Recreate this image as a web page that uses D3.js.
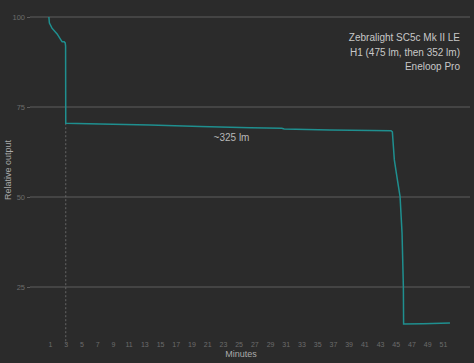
<!DOCTYPE html>
<html>
<head>
<meta charset="utf-8">
<script src="https://cdn.jsdelivr.net/npm/d3@7"></script>
<style>
  body { margin: 0; background: #2b2b2b; }
  svg { display: block; font-family: "Liberation Sans", Arial, sans-serif; }
</style>
</head>
<body>
<div id="chart"></div>
<script>
// runtime readings
var minutes = [0.85, 0.92, 1.25, 1.9, 2.4, 2.55, 2.8, 2.93, 2.98, 3.0, 7.4, 13.7, 20.1, 26.5, 30.5, 30.8, 36.6, 42, 44.4, 44.57, 44.82, 45.17, 45.55, 45.8, 45.97, 46.0, 48.5, 51.9];
var output = [100, 98.3, 96.9, 95.3, 93.6, 93.1, 93.1, 92.8, 91.9, 70.5, 70.3, 70.0, 69.6, 69.25, 69.1, 68.9, 68.6, 68.5, 68.4, 68.1, 60.3, 55.3, 50.1, 40.0, 25.1, 14.7, 14.8, 15.0];

var xTicks = [1, 3, 5, 7, 9, 11, 13, 15, 17, 19, 21, 23, 25, 27, 29, 31, 33, 35, 37, 39, 41, 43, 45, 47, 49, 51];
var yTicks = [25, 50, 75, 100];
var titleLines = ["Zebralight SC5c Mk II LE", "H1 (475 lm, then 352 lm)", "Eneloop Pro"];
var switchMinute = 3;

var width = 474, height = 363;

var x = d3.scaleLinear().domain([-1.55, 54.45]).range([30, 470]);
var y = d3.scaleLinear().domain([25, 100]).range([287, 17]);
var bottom = 344;

var svg = d3.select("#chart").append("svg")
  .attr("width", width)
  .attr("height", height);

svg.append("rect")
  .attr("width", width)
  .attr("height", height)
  .attr("fill", "#2b2b2b");

// horizontal grid
svg.append("g")
  .selectAll("line")
  .data(yTicks)
  .enter().append("line")
  .attr("x1", x.range()[0])
  .attr("x2", x.range()[1])
  .attr("y1", function(d) { return y(d); })
  .attr("y2", function(d) { return y(d); })
  .attr("stroke", "#5e5e5e")
  .attr("stroke-width", 1);

// y axis ticks + labels
var yAxis = svg.append("g")
  .attr("transform", "translate(30,0)")
  .call(d3.axisLeft(y).tickValues(yTicks).tickSize(3).tickPadding(2));
yAxis.select(".domain").remove();
yAxis.selectAll("line").attr("stroke", "#5e5e5e");
yAxis.selectAll("text")
  .attr("fill", "#6c6c6c")
  .attr("font-size", 7.5)
  .attr("font-family", "Liberation Sans, Arial, sans-serif");

// x axis labels
var xAxis = svg.append("g")
  .attr("transform", "translate(0," + 339 + ")")
  .call(d3.axisBottom(x).tickValues(xTicks).tickSize(0).tickPadding(3));
xAxis.select(".domain").remove();
xAxis.selectAll("text")
  .attr("fill", "#6c6c6c")
  .attr("font-size", 7)
  .attr("font-family", "Liberation Sans, Arial, sans-serif");

// dashed marker where output switches
var switchIdx = minutes.indexOf(switchMinute);
svg.append("line")
  .attr("x1", x(switchMinute))
  .attr("x2", x(switchMinute))
  .attr("y1", y(output[switchIdx]))
  .attr("y2", bottom)
  .attr("stroke", "#666")
  .attr("stroke-width", 1)
  .attr("stroke-dasharray", "2,2");

var line = d3.line()
  .x(function(d, i) { return x(minutes[i]); })
  .y(function(d) { return y(d); })
  .curve(d3.curveMonotoneX);

svg.append("path")
  .datum(output)
  .attr("d", d3.line()
    .x(function(d, i) { return x(minutes[i]); })
    .y(function(d) { return y(d); }))
  .attr("fill", "none")
  .attr("stroke", "#1f8f8f")
  .attr("stroke-width", 1.5);

// annotation
svg.append("text")
  .attr("x", x(24.1))
  .attr("y", 141)
  .attr("text-anchor", "middle")
  .attr("fill", "#b8b8b8")
  .attr("font-size", 10)
  .text("~325 lm");

// title block
svg.append("g")
  .selectAll("text")
  .data(titleLines)
  .enter().append("text")
  .attr("x", 460)
  .attr("y", function(d, i) { return 41 + i * 14.5; })
  .attr("text-anchor", "end")
  .attr("fill", "#c8c8c8")
  .attr("font-size", 10)
  .text(function(d) { return d; });

// axis titles
svg.append("text")
  .attr("x", x(25.3))
  .attr("y", 357)
  .attr("text-anchor", "middle")
  .attr("fill", "#aaa")
  .attr("font-size", 9)
  .text("Minutes");

svg.append("text")
  .attr("transform", "translate(11,170) rotate(-90)")
  .attr("text-anchor", "middle")
  .attr("fill", "#aaa")
  .attr("font-size", 9)
  .text("Relative output");
</script>
</body>
</html>
